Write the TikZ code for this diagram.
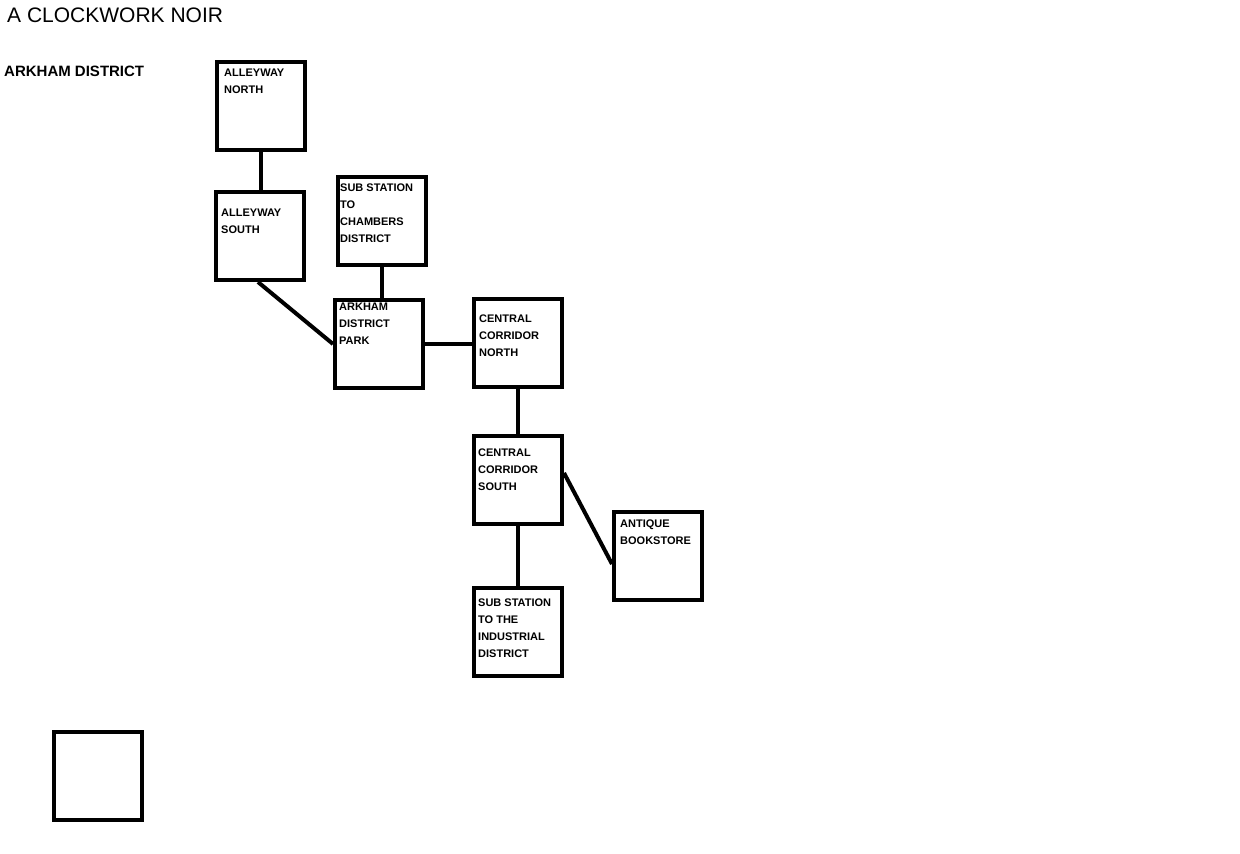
\documentclass[tikz,border=0pt]{standalone}
\usepackage{fontspec}
\setmainfont{Liberation Sans}
\begin{document}
\begin{tikzpicture}[x=1pt,y=-1pt,
  room/.style={draw,line width=4pt,minimum width=88pt,minimum height=88pt,inner sep=0pt},
  lab/.style={anchor=north west,align=left,inner sep=0pt,font=\bfseries\fontsize{11}{17}\selectfont},
  link/.style={line width=4pt}]
\useasboundingbox (0,0) rectangle (1240,854);
\node[anchor=north west,inner sep=0pt,font=\fontsize{21}{24}\selectfont] (title) at (7,8) {A CLOCKWORK NOIR};
\node[anchor=north west,inner sep=0pt,font=\bfseries\fontsize{15}{18}\selectfont] (dist) at (4,66) {ARKHAM DISTRICT};
\node[room] (an) at (261,106) {};
\node[room] (as) at (260,236) {};
\node[room] (ss) at (382,221) {};
\node[room] (pk) at (379,344) {};
\node[room] (cn) at (518,343) {};
\node[room] (cs) at (518,480) {};
\node[room] (ab) at (658,556) {};
\node[room] (si) at (518,632) {};
\node[room] (empty) at (98,776) {};
\node[lab] at (224,69) {ALLEYWAY\\NORTH};
\node[lab] at (221,209) {ALLEYWAY\\SOUTH};
\node[lab] at (340,184) {SUB STATION\\TO\\CHAMBERS\\DISTRICT};
\node[lab] at (339,303) {ARKHAM\\DISTRICT\\PARK};
\node[lab] at (479,315) {CENTRAL\\CORRIDOR\\NORTH};
\node[lab] at (478,449) {CENTRAL\\CORRIDOR\\SOUTH};
\node[lab] at (620,520) {ANTIQUE\\BOOKSTORE};
\node[lab] at (478,599) {SUB STATION\\TO THE\\INDUSTRIAL\\DISTRICT};
\draw[link] (an.south) -- (an.south |- as.north);
\draw[link] ([xshift=-2pt]as.south) -- (pk.west);
\draw[link] (ss.south) -- (ss.south |- pk.north);
\draw[link] (pk.east) -- (pk.east -| cn.west);
\draw[link] (cn.south) -- (cs.north);
\draw[link] ([yshift=7pt]cs.east) -- ([yshift=-8pt]ab.west);
\draw[link] (cs.south) -- (si.north);
\end{tikzpicture}
\end{document}
